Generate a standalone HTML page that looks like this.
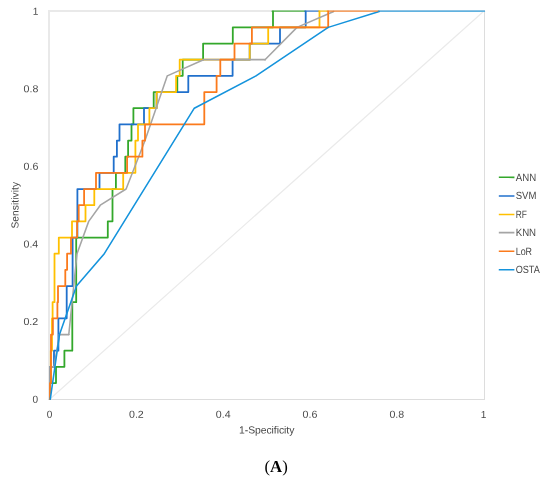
<!DOCTYPE html>
<html><head><meta charset="utf-8"><title>ROC (A)</title>
<style>html,body{margin:0;padding:0;background:#fff}svg{display:block}text{font-family:"Liberation Sans",sans-serif;fill:#484848;text-rendering:geometricPrecision}</style></head><body>
<svg width="550" height="482" viewBox="0 0 550 482">
<rect width="550" height="482" fill="#fff"/>
<path d="M49,400V10M48,11H485" fill="none" stroke="#E9E9E9" stroke-width="2"/>
<path d="M484.5,10V400M48,399.5H485" fill="none" stroke="#DDDDDD" stroke-width="1"/>
<line x1="50" y1="399" x2="484" y2="11" stroke="#EAEAEA" stroke-width="1.15"/>
<defs><clipPath id="pc"><rect x="49.1" y="0" width="440" height="410"/></clipPath></defs>
<g clip-path="url(#pc)" fill="none" stroke-linejoin="round" stroke-linecap="round">
<path d="M50,399.2 L50,383.03 L56,383.03 L56,366.87 L64.4,366.87 L64.4,350.7 L72.3,350.7 L72.3,302.2 L76.2,302.2 L76.2,237.53 L107.8,237.53 L107.8,221.37 L112.5,221.37 L112.5,189.03 L115.9,189.03 L115.9,172.87 L125.3,172.87 L125.3,156.7 L128.1,156.7 L128.1,140.53 L131.5,140.53 L131.5,124.37 L133.4,124.37 L133.4,108.2 L153.7,108.2 L153.7,92.03 L177.3,92.03 L177.3,75.87 L182.7,75.87 L182.7,59.7 L203.1,59.7 L203.1,43.53 L232.8,43.53 L232.8,27.37 L273,27.37 L273,11.5" stroke="#33A82B" stroke-width="1.8"/>
<path d="M50,399.2 L50,366.87 L54,366.87 L54,350.7 L58.4,350.7 L58.4,318.37 L66.7,318.37 L66.7,286.03 L72.6,286.03 L72.6,237.53 L77.4,237.53 L77.4,189.03 L99.5,189.03 L99.5,172.87 L113.7,172.87 L113.7,156.7 L116.9,156.7 L116.9,140.53 L119.5,140.53 L119.5,124.37 L144,124.37 L144,108.2 L156.6,108.2 L156.6,92.03 L188.3,92.03 L188.3,75.87 L232.6,75.87 L232.6,59.7 L249.7,59.7 L249.7,43.53 L280,43.53 L280,27.37 L305.7,27.37 L305.7,11.5" stroke="#2070CC" stroke-width="1.8"/>
<path d="M50,399.2 L50,383.03 L50.8,383.03 L50.8,350.7 L52,350.7 L52,318.37 L52.6,318.37 L52.6,302.2 L54.5,302.2 L54.5,253.7 L58.8,253.7 L58.8,237.53 L72,237.53 L72,221.37 L85.5,221.37 L85.5,205.2 L94.3,205.2 L94.3,189.03 L123.2,189.03 L123.2,172.87 L135.4,172.87 L135.4,140.53 L138,140.53 L138,124.37 L149.4,124.37 L149.4,108.2 L156.6,108.2 L156.6,92.03 L176.1,92.03 L176.1,75.87 L179.7,75.87 L179.7,59.7 L249.7,59.7 L249.7,43.53 L268.2,43.53 L268.2,27.37 L319.5,27.37 L319.5,11.5" stroke="#FFC000" stroke-width="1.8"/>
<g stroke="#A5A5A5"><path d="M54,366.87L59.5,334.53M68.8,334.53L77,253.7M77,253.7L88.7,221.37M88.7,221.37L100.3,205.2M100.3,205.2L126.1,189.03M126.1,189.03L145,140.53M145,140.53L167.3,75.87M167.3,75.87L203.5,59.7M265,59.7L297,27.37M297,27.37L333.7,11.5" stroke-width="1.55"/><path d="M50,399.2L50,366.87M50,366.87L54,366.87M59.5,334.53L68.8,334.53M203.5,59.7L265,59.7" stroke-width="1.8"/></g>
<path d="M50,399.2 L50,383.03 L51,383.03 L51,334.53 L52.9,334.53 L52.9,318.37 L57.4,318.37 L57.4,302.2 L58,302.2 L58,286.03 L65.3,286.03 L65.3,269.87 L67.1,269.87 L67.1,253.7 L71,253.7 L71,237.53 L77.1,237.53 L77.1,221.37 L78.7,221.37 L78.7,205.2 L84.1,205.2 L84.1,189.03 L96,189.03 L96,172.87 L127.1,172.87 L127.1,156.7 L142.4,156.7 L142.4,140.53 L145,140.53 L145,124.37 L204.3,124.37 L204.3,92.03 L216.6,92.03 L216.6,75.87 L220.3,75.87 L220.3,59.7 L234.5,59.7 L234.5,43.53 L251.9,43.53 L251.9,27.37 L328.2,27.37 L328.2,11.5" stroke="#FB7A1C" stroke-width="1.8"/>
<g stroke="#1493DC"><path d="M50.3,399.2L59.5,334.53M59.5,334.53L76.5,286.03M76.5,286.03L104.3,253.7M104.3,253.7L194.3,108.2M194.3,108.2L256,75.87M256,75.87L328.2,27.37M328.2,27.37L379.2,11.5" stroke-width="1.55"/><path d="" stroke-width="1.8"/></g>
<line x1="272.1" y1="11.2" x2="304.8" y2="11.2" stroke="#33A82B" stroke-width="1.3" stroke-opacity="0.85"/>
<line x1="304.8" y1="11.2" x2="318.6" y2="11.2" stroke="#2070CC" stroke-width="1.3" stroke-opacity="0.85"/>
<line x1="318.6" y1="11.2" x2="327.3" y2="11.2" stroke="#FFC000" stroke-width="1.3" stroke-opacity="0.85"/>
<line x1="327.3" y1="11.2" x2="378.3" y2="11.2" stroke="#FB7A1C" stroke-width="1.3" stroke-opacity="0.85"/>
<line x1="378.3" y1="11.2" x2="484.5" y2="11.2" stroke="#1493DC" stroke-width="1.3" stroke-opacity="0.85"/>
</g>
<g transform="rotate(0.03 275 241)">
<text x="38.3" y="402.8" font-size="10.2" text-anchor="end" textLength="5.6" lengthAdjust="spacingAndGlyphs">0</text>
<text x="38.3" y="325.2" font-size="10.2" text-anchor="end" textLength="14.8" lengthAdjust="spacingAndGlyphs">0.2</text>
<text x="38.3" y="247.6" font-size="10.2" text-anchor="end" textLength="14.8" lengthAdjust="spacingAndGlyphs">0.4</text>
<text x="38.3" y="170.0" font-size="10.2" text-anchor="end" textLength="14.8" lengthAdjust="spacingAndGlyphs">0.6</text>
<text x="38.3" y="92.4" font-size="10.2" text-anchor="end" textLength="14.8" lengthAdjust="spacingAndGlyphs">0.8</text>
<text x="38.3" y="14.8" font-size="10.2" text-anchor="end" textLength="5.6" lengthAdjust="spacingAndGlyphs">1</text>
<text x="49.7" y="417.8" font-size="10.2" text-anchor="middle" textLength="5.6" lengthAdjust="spacingAndGlyphs">0</text>
<text x="136.5" y="417.8" font-size="10.2" text-anchor="middle" textLength="14.8" lengthAdjust="spacingAndGlyphs">0.2</text>
<text x="223.3" y="417.8" font-size="10.2" text-anchor="middle" textLength="14.8" lengthAdjust="spacingAndGlyphs">0.4</text>
<text x="310.1" y="417.8" font-size="10.2" text-anchor="middle" textLength="14.8" lengthAdjust="spacingAndGlyphs">0.6</text>
<text x="396.9" y="417.8" font-size="10.2" text-anchor="middle" textLength="14.8" lengthAdjust="spacingAndGlyphs">0.8</text>
<text x="483.7" y="417.8" font-size="10.2" text-anchor="middle" textLength="5.6" lengthAdjust="spacingAndGlyphs">1</text>
<text x="266.8" y="433.5" font-size="10.4" text-anchor="middle" textLength="55.4" lengthAdjust="spacing">1-Specificity</text>
<text transform="translate(18.5,205.4) rotate(-90)" font-size="10.2" text-anchor="middle" textLength="46.6" lengthAdjust="spacing">Sensitivity</text>
<line x1="498.8" y1="177.2" x2="514.4" y2="177.2" stroke="#33A82B" stroke-width="1.6"/>
<text x="515.7" y="180.5" font-size="10.5" textLength="20.4" lengthAdjust="spacingAndGlyphs">ANN</text>
<line x1="498.8" y1="195.9" x2="514.4" y2="195.9" stroke="#2070CC" stroke-width="1.6"/>
<text x="515.7" y="199.2" font-size="10.5" textLength="20.7" lengthAdjust="spacingAndGlyphs">SVM</text>
<line x1="498.8" y1="214.4" x2="514.4" y2="214.4" stroke="#FFC000" stroke-width="1.6"/>
<text x="515.7" y="217.7" font-size="10.5" textLength="11.2" lengthAdjust="spacingAndGlyphs">RF</text>
<line x1="498.8" y1="232.5" x2="514.4" y2="232.5" stroke="#A5A5A5" stroke-width="1.6"/>
<text x="515.7" y="235.8" font-size="10.5" textLength="20.4" lengthAdjust="spacingAndGlyphs">KNN</text>
<line x1="498.8" y1="251.1" x2="514.4" y2="251.1" stroke="#FB7A1C" stroke-width="1.6"/>
<text x="515.7" y="254.4" font-size="10.5" textLength="16.4" lengthAdjust="spacingAndGlyphs">LoR</text>
<line x1="498.8" y1="269.6" x2="514.4" y2="269.6" stroke="#1493DC" stroke-width="1.6"/>
<text x="515.7" y="272.9" font-size="10.5" textLength="24.2" lengthAdjust="spacingAndGlyphs">OSTA</text>
<text x="276.3" y="472" font-size="16.8" text-anchor="middle" style="font-family:'Liberation Serif',serif;fill:#000;stroke:none">(<tspan font-weight="bold">A</tspan>)</text>
</g>
</svg></body></html>
